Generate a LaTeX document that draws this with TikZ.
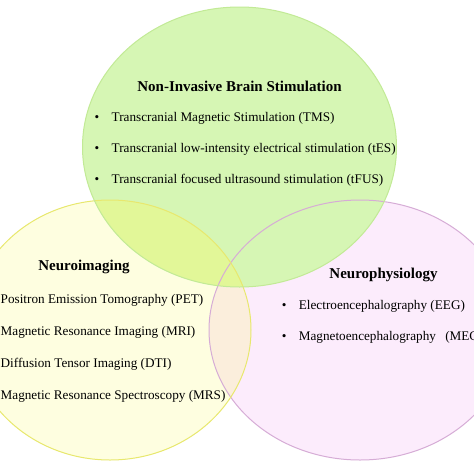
\documentclass[tikz,border=0pt]{standalone}
\usepackage{fontspec}
\setmainfont{Liberation Serif}
\usepackage{xcolor}
\usetikzlibrary{positioning}

\definecolor{greenfill}{RGB}{214,246,180}
\definecolor{greenline}{RGB}{194,234,150}
\definecolor{limefill}{RGB}{226,247,152}
\definecolor{yellowfill}{RGB}{254,254,224}
\definecolor{yellowline}{RGB}{232,232,110}
\definecolor{peachfill}{RGB}{251,238,220}
\definecolor{pinkfill}{RGB}{252,236,252}
\definecolor{pinkline}{RGB}{214,172,214}

\newcommand{\itembullet}{\makebox[17pt][l]{\textbullet}}
\newcommand{\greenpath}{(239.5,147) ellipse [x radius=157pt, y radius=140pt]}
\newcommand{\yellowpath}{(110,330) ellipse [x radius=141pt, y radius=130pt]}
\newcommand{\pinkpath}{(360,330) ellipse [x radius=151pt, y radius=130pt]}

\begin{document}
\begin{tikzpicture}[
    x=1pt, y=-1pt,
    node distance=18pt and 0pt,
    circ/.style={line width=1pt},
    title/.style={font=\fontsize{15}{18}\selectfont\bfseries, inner sep=0pt, anchor=base},
    item/.style={font=\fontsize{13.2}{15}\selectfont, inner sep=0pt, text height=10pt, text depth=3pt, anchor=west}
]
    \clip (0,0) rectangle (474,474);
    \fill[white] (0,0) rectangle (474,474);

    \fill[pinkfill] \pinkpath;
    \fill[yellowfill] \yellowpath;
    \begin{scope}
        \clip \pinkpath;
        \fill[peachfill] \yellowpath;
    \end{scope}
    \fill[greenfill] \greenpath;
    \begin{scope}
        \clip \yellowpath;
        \fill[limefill] \greenpath;
    \end{scope}
    \draw[circ, pinkline] \pinkpath;
    \draw[circ, yellowline] \yellowpath;
    \draw[circ, greenline] \greenpath;

    \node[title] (nibs) at (239.5,91) {Non-Invasive Brain Stimulation};
    \node[item] (tms) at (94.5,117.5) {\itembullet Transcranial Magnetic Stimulation (TMS)};
    \node[item, below right=of tms.south west] (tes) {\itembullet Transcranial low-intensity electrical stimulation (tES)};
    \node[item, below right=of tes.south west] (tfus) {\itembullet Transcranial focused ultrasound stimulation (tFUS)};

    \node[title] (neuroimg) at (84,270) {Neuroimaging};
    \node[item] (pet) at (0.5,299.5) {Positron Emission Tomography (PET)};
    \node[item, below right=18.7pt and 0pt of pet.south west] (mri) {Magnetic Resonance Imaging (MRI)};
    \node[item, below right=18.7pt and 0pt of mri.south west] (dti) {Diffusion Tensor Imaging (DTI)};
    \node[item, below right=18.7pt and 0pt of dti.south west] (mrs) {Magnetic Resonance Spectroscopy (MRS)};

    \node[title] (neurophys) at (383.5,278) {Neurophysiology};
    \node[item] (eeg) at (281.7,305.5) {\itembullet Electroencephalography (EEG)};
    \node[item, below right=of eeg.south west] (meg) {\itembullet Magnetoencephalography\hspace{6pt} (MEG)};
\end{tikzpicture}
\end{document}
